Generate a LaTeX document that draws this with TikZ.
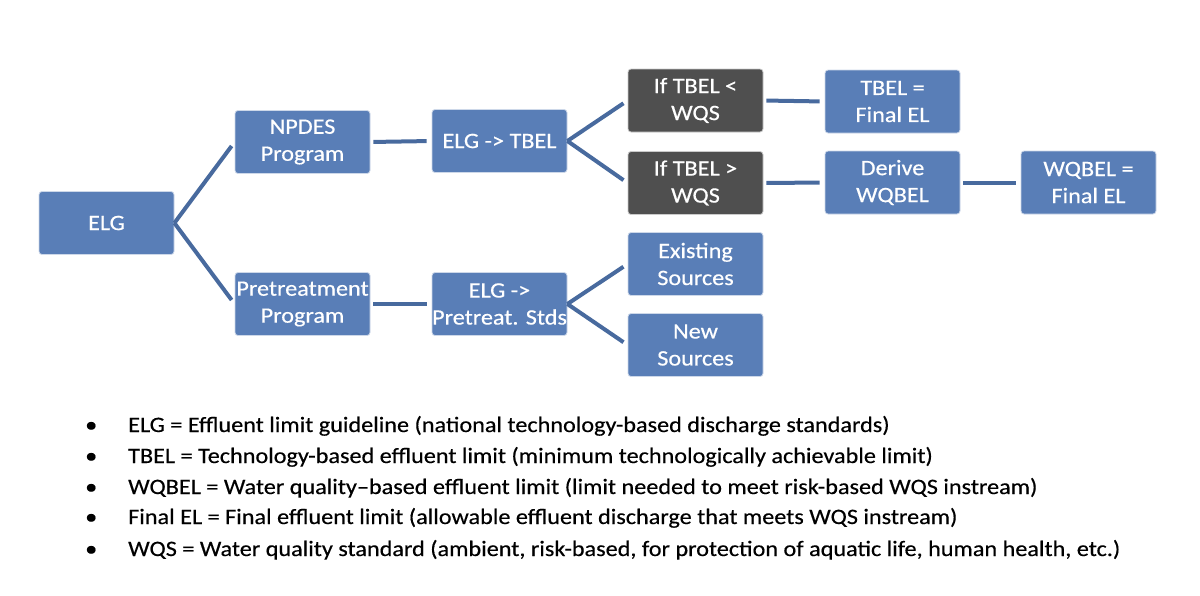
\documentclass[tikz,border=0pt]{standalone}
\usepackage{fontspec}
\setmainfont{Carlito}[FakeStretch=1.1,FakeBold=0.4]
\definecolor{boxblue}{RGB}{89,126,183}
\definecolor{boxgrey}{RGB}{79,79,79}
\definecolor{linkblue}{RGB}{72,106,158}
\tikzset{
  stage/.style={fill=boxblue, draw=white!70!boxblue, line width=0.8pt, rounded corners=3pt,
    minimum width=135pt, minimum height=63pt, inner sep=0pt, text=white, align=center,
    font=\fontsize{22}{27}\selectfont},
  test/.style={stage, fill=boxgrey, draw=white!70!boxgrey},
  link/.style={linkblue, line width=4pt},
  legend/.style={anchor=base west, inner sep=0pt, font=\fontsize{22}{25}\selectfont}
}

\begin{document}
\begin{tikzpicture}[x=1pt,y=-1pt]
\useasboundingbox (0,0) rectangle (1200,595);
% boxes
\node[stage] (elg) at (106.5,223) {ELG};
\node[stage] (npdes) at (302.5,142) {NPDES\\Program};
\node[stage] (pretreat) at (302.5,304) {Pretreatment\\Program};
\node[stage] (tbel) at (499.5,141) {ELG -> TBEL};
\node[stage] (stds) at (499.5,304) {ELG ->\\Pretreat. Stds};
\node[test] (iflt) at (695.5,100.5) {If TBEL <\\WQS};
\node[test] (ifgt) at (695.5,183) {If TBEL >\\WQS};
\node[stage] (exist) at (695.5,264) {Existing\\Sources};
\node[stage] (new) at (695.5,345) {New\\Sources};
\node[stage] (tbelfinal) at (892.5,101.5) {TBEL =\\Final EL};
\node[stage] (derive) at (892.5,182.5) {Derive\\WQBEL};
\node[stage] (wqbelfinal) at (1088.5,182.5) {WQBEL =\\Final EL};
% connectors
\draw[link, shorten >=5pt] (elg.east) -- (npdes.west);
\draw[link, shorten >=5pt] (elg.east) -- (pretreat.west);
\draw[link, shorten <=3pt, shorten >=5pt] (npdes.east) -- (tbel.west);
\draw[link, shorten <=3pt, shorten >=5pt] (pretreat.east) -- (stds.west);
\draw[link, shorten >=5pt] (tbel.east) -- (iflt.west);
\draw[link, shorten >=5pt] (tbel.east) -- (ifgt.west);
\draw[link, shorten >=5pt] (stds.east) -- (exist.west);
\draw[link, shorten >=5pt] (stds.east) -- (new.west);
\draw[link, shorten <=3pt, shorten >=5pt] (iflt.east) -- (tbelfinal.west);
\draw[link, shorten <=3pt, shorten >=5pt] (ifgt.east) -- (derive.west);
\draw[link, shorten <=3pt, shorten >=5pt] (derive.east) -- (wqbelfinal.west);
% legend
\node[legend] (b1) at (85,432) {•};
\node[legend] (b2) at (85,463) {•};
\node[legend] (b3) at (85,494) {•};
\node[legend] (b4) at (85,524) {•};
\node[legend] (b5) at (85,556) {•};
\node[legend] (l1) at (128,432) {ELG = Effluent limit guideline (national technology-based discharge standards)};
\node[legend] (l2) at (128,463) {TBEL = Technology-based effluent limit (minimum technologically achievable limit)};
\node[legend] (l3) at (128,494) {WQBEL = Water quality–based effluent limit (limit needed to meet risk-based WQS instream)};
\node[legend] (l4) at (128,524) {Final EL = Final effluent limit (allowable effluent discharge that meets WQS instream)};
\node[legend] (l5) at (128,556) {WQS = Water quality standard (ambient, risk-based, for protection of aquatic life, human health, etc.)};
\end{tikzpicture}
\end{document}
